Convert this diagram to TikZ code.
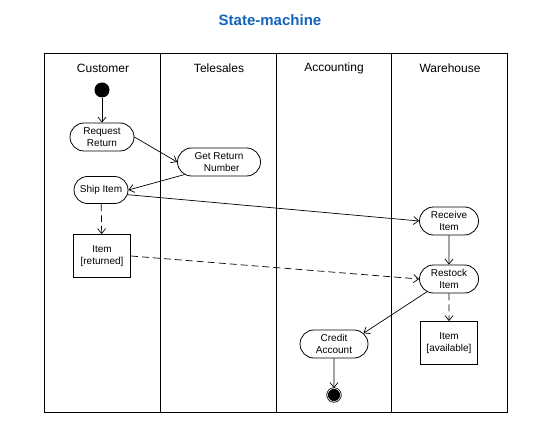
\documentclass[tikz,border=0pt]{standalone}
\usepackage{fontspec}
\setmainfont{Liberation Sans}
\usetikzlibrary{arrows.meta,shapes.misc}
\definecolor{titleblue}{RGB}{20,100,190}
\begin{document}
\begin{tikzpicture}[x=1pt,y=-1pt,line width=0.8pt,
  act/.style={draw,rounded rectangle,minimum width=#1,minimum height=28pt,inner sep=1pt,align=center,font=\fontsize{10}{12}\selectfont},
  obj/.style={draw,rectangle,minimum width=57pt,minimum height=43pt,inner sep=1pt,align=center,font=\fontsize{10}{12}\selectfont},
  lane/.style={font=\fontsize{12}{14}\selectfont},
  flow/.style={-{Straight Barb[length=5pt,width=8pt]},line width=0.7pt},
  oflow/.style={flow,dash pattern=on 7pt off 4pt}]
\useasboundingbox (0,0) rectangle (540,430);
\node[font=\bfseries\fontsize{15}{17}\selectfont,text=titleblue] (title) at (270,20) {State-machine};
\draw (44,53) rectangle (507,412);
\draw (160,53) -- (160,412) (276,53) -- (276,412) (391,53) -- (391,412);
\node[lane] (l1) at (103,68) {Customer};
\node[lane] (l2) at (219,68) {Telesales};
\node[lane] (l3) at (334,68) {Accounting};
\node[lane] (l4) at (450,68) {Warehouse};
\node[circle,fill=black,minimum size=15pt,inner sep=0pt] (start) at (102,90) {};
\node[act=66pt] (req) at (102,137) {Request\\Return};
\node[act=85pt] (grn) at (219,162) {Get Return\\\ \ Number};
\node[act=56pt,minimum height=27pt] (ship) at (101,190) {Ship Item};
\node[obj] (iret) at (102,256) {Item\\{[returned]}};
\node[act=61pt] (recv) at (449,221) {Receive\\Item};
\node[act=61pt] (rest) at (449,279) {Restock\\Item};
\node[obj] (iav) at (449,343) {Item\\{[available]}};
\node[act=70pt] (cred) at (334,344) {Credit\\Account};
\node[circle,fill=black,draw=black,double=white,double distance=0.6pt,minimum size=13pt,inner sep=0pt] (end) at (334,395) {};
\draw[flow] (start) -- (req);
\draw[flow] (req.east) -- (grn.west);
\draw[flow] (grn.-160) -- (ship.east);
\draw[flow] (ship.-10) -- (recv.west);
\draw[oflow] (ship) -- (iret);
\draw[oflow] (iret.east) -- (rest.west);
\draw[flow] (recv) -- (rest);
\draw[oflow] (rest) -- (iav);
\draw[flow] (rest.-150) -- (cred.20);
\draw[flow] (cred) -- (end);
\end{tikzpicture}
\end{document}
